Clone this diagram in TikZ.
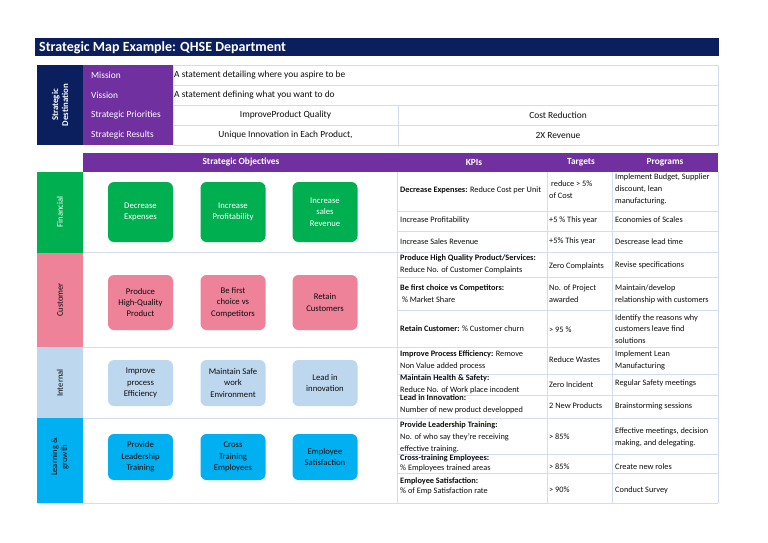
\documentclass[tikz,border=0pt]{standalone}
\usepackage{fontspec}
\setmainfont{Carlito}
\definecolor{navy}{HTML}{0B1F5E}
\definecolor{purp}{HTML}{7030A0}
\definecolor{fgreen}{HTML}{00B050}
\definecolor{cpink}{HTML}{EE8299}
\definecolor{ilblue}{HTML}{BDD7EE}
\definecolor{lcyan}{HTML}{00B0F0}
\definecolor{gridc}{HTML}{D3DCF0}
\definecolor{txt}{HTML}{0D0D0D}
\tikzset{
  gridline/.style={draw=gridc, line width=0.8pt},
  lab/.style={anchor=west, text=white, inner sep=0pt, font=\fontsize{9.4}{11}\selectfont},
  val/.style={inner sep=0pt, text=txt, font=\fontsize{9.4}{11}\selectfont},
  hdr/.style={inner sep=0pt, text=white, font=\fontsize{9.4}{11}\selectfont\bfseries},
  cat/.style={rotate=90, inner sep=0pt, align=center, font=\fontsize{8.6}{10}\selectfont},
  kpi/.style={anchor=west, align=left, inner sep=0pt, text=txt, font=\fontsize{8.3}{11.8}\selectfont},
  kpit/.style={kpi, font=\fontsize{8.3}{10}\selectfont},
  obj/.style={rounded corners=6pt, minimum width=65pt, align=center, inner sep=1pt, font=\fontsize{8.7}{11.3}\selectfont},
}
\begin{document}
\begin{tikzpicture}[x=1pt,y=-1pt]
\useasboundingbox (0,0) rectangle (768,543);
\fill[white] (0,0) rectangle (768,543);
% title
\fill[navy] (35,38) rectangle (719,56);
\node[anchor=west, text=white, inner sep=0pt, font=\fontsize{14}{16}\selectfont\bfseries] (title) at (39,47.5) {Strategic Map Example: QHSE Department};
% strategic destination
\fill[navy] (37,65) rectangle (83,145);
\fill[purp] (83,65) rectangle (173,145);
\draw[gridline] (173,65) rectangle (718,145);
\foreach \yy in {85,105,125} \draw[gridline] (173,\yy) -- (718,\yy);
\draw[gridline] (398,105) -- (398,145);
\node[cat, text=white, font=\fontsize{8.8}{10}\selectfont\bfseries] (dest) at (60,105) {Strategic\\Destination};
\node[lab] (lmis) at (91,75) {Mission};
\node[lab] (lvis) at (91,95) {Vission};
\node[lab] (lpri) at (91,115) {Strategic Priorities};
\node[lab] (lres) at (91,135) {Strategic Results};
\node[val, anchor=west] (vmis) at (174,75) {A statement detailing where you aspire to be};
\node[val, anchor=west] (vvis) at (174,95) {A statement defining what you want to do};
\node[val] (vpri1) at (285.5,115) {ImproveProduct Quality};
\node[val] (vpri2) at (558,115) {Cost Reduction};
\node[val] (vres1) at (285.5,135) {Unique Innovation in Each Product,};
\node[val] (vres2) at (558,135) {2X Revenue};
% header
\fill[purp] (83,153) rectangle (718,171.5);
\node[hdr] (hobj) at (241,162) {Strategic Objectives};
\node[hdr] (hkpi) at (474,162) {KPIs};
\node[hdr] (htar) at (581,162) {Targets};
\node[hdr] (hpro) at (665,162) {Programs};
% categories
\fill[fgreen] (37,172) rectangle (83,252.5);
\fill[cpink] (37,252.5) rectangle (83,347);
\fill[ilblue] (37,347) rectangle (83,418);
\fill[lcyan] (37,418) rectangle (83,503);
\node[cat, text=white] (cfin) at (60,212) {Financial};
\node[cat, text=txt] (ccus) at (60,300) {Customer};
\node[cat, text=txt] (cint) at (60,383) {Internal};
\node[cat, text=txt] (clea) at (60,457) {Learning \&\\growth};
% grid
\foreach \yy in {252.5,347,418} \draw[gridline] (83,\yy) -- (718,\yy);
\draw[gridline] (37,503) -- (718,503);
\foreach \yy in {211,231,277,310,374,395,454,473} \draw[gridline] (397,\yy) -- (718,\yy);
\foreach \xx in {397,547,612,718} \draw[gridline] (\xx,172) -- (\xx,503);
% objective boxes
\node[obj, fill=fgreen, text=white, minimum height=60pt] (o11) at (140.5,212) {Decrease\\Expenses};
\node[obj, fill=fgreen, text=white, minimum height=60pt] (o12) at (233,212) {Increase\\Profitability};
\node[obj, fill=fgreen, text=white, minimum height=60pt] (o13) at (325,212) {Increase\\sales\\Revenue};
\node[obj, fill=cpink, text=txt, minimum height=55pt] (o21) at (140.5,302.5) {Produce\\High-Quality\\Product};
\node[obj, fill=cpink, text=txt, minimum height=55pt] (o22) at (233,302.5) {Be first\\choice vs\\Competitors};
\node[obj, fill=cpink, text=txt, minimum height=55pt] (o23) at (325,302.5) {Retain\\Customers};
\node[obj, fill=ilblue, text=txt, minimum height=46pt] (o31) at (140.5,383) {Improve\\process\\Efficiency};
\node[obj, fill=ilblue, text=txt, minimum height=46pt] (o32) at (233,383) {Maintain Safe\\work\\Environment};
\node[obj, fill=ilblue, text=txt, minimum height=46pt] (o33) at (325,383) {Lead in\\innovation};
\node[obj, fill=lcyan, text=txt, minimum height=46pt] (o41) at (140.5,457) {Provide\\Leadership\\Training};
\node[obj, fill=lcyan, text=txt, minimum height=46pt] (o42) at (233,457) {Cross\\Training\\Employees};
\node[obj, fill=lcyan, text=txt, minimum height=46pt] (o43) at (325,457) {Employee\\Satisfaction};
% KPI rows - financial
\node[kpi] (k11) at (400,190) {\textbf{Decrease Expenses:} Reduce Cost per Unit};
\node[kpi] (t11) at (549,190) {\ reduce > 5\%\\of Cost};
\node[kpi] (p11) at (615,189.5) {Implement Budget, Supplier\\discount, lean\\manufacturing.};
\node[kpi] (k12) at (400,220) {Increase Profitability};
\node[kpi] (t12) at (549,220) {+5 \% This year};
\node[kpi] (p12) at (615,220) {Economies of Scales};
\node[kpi] (k13) at (400,241.5) {Increase Sales Revenue};
\node[kpi] (t13) at (549,241.5) {+5\% This year};
\node[kpi] (p13) at (615,241.5) {Descrease lead time};
% customer
\node[kpi] (k21) at (400,264) {\textbf{Produce High Quality Product/Services:}\\Reduce No. of Customer Complaints};
\node[kpi] (t21) at (549,266) {Zero Complaints};
\node[kpi] (p21) at (615,265.5) {Revise specifications};
\node[kpi] (k22) at (400,294) {\textbf{Be first choice vs Competitors:}\\\ \% Market Share};
\node[kpi] (t22) at (549,294) {No. of Project\\awarded};
\node[kpi] (p22) at (615,294) {Maintain/develop\\relationship with customers};
\node[kpi] (k23) at (400,329) {\textbf{Retain Customer:} \% Customer churn};
\node[kpi] (t23) at (549,329.5) {> 95 \%};
\node[kpi] (p23) at (615,329) {Identify the reasons why\\customers leave find\\solutions};
% internal
\node[kpi] (k31) at (400,360) {\textbf{Improve Process Efficiency:} Remove\\Non Value added process};
\node[kpi] (t31) at (549,360) {Reduce Wastes};
\node[kpi] (p31) at (615,360) {Implement Lean\\Manufacturing};
\node[kpi] (k32) at (400,384.5) {\textbf{Maintain Health \& Safety:}\\Reduce No. of Work place incodent};
\node[kpi] (t32) at (549,384.5) {Zero Incident};
\node[kpi] (p32) at (615,383.5) {Regular Safety meetings};
\node[kpi] (k33) at (400,404) {\textbf{Lead in Innovation:}\\Number of new product developped};
\node[kpi] (t33) at (549,406) {2 New Products};
\node[kpi] (p33) at (615,406) {Brainstorming sessions};
% learning
\node[kpi] (k41) at (400,437) {\textbf{Provide Leadership Training:}\\No. of who say they're receiving\\effective training.};
\node[kpi] (t41) at (549,437) {> 85\%};
\node[kpi] (p41) at (615,437) {Effective meetings, decision\\making, and delegating.};
\node[kpit] (k42) at (400,463.5) {\textbf{Cross-training Employees:}\\\% Employees trained areas};
\node[kpi] (t42) at (549,467) {> 85\%};
\node[kpi] (p42) at (615,467) {Create new roles};
\node[kpit] (k43) at (400,486) {\textbf{Employee Satisfaction:}\\\% of Emp Satisfaction rate};
\node[kpi] (t43) at (549,490) {> 90\%};
\node[kpi] (p43) at (615,490) {Conduct Survey};
\end{tikzpicture}
\end{document}
